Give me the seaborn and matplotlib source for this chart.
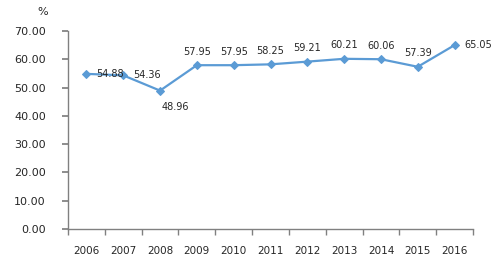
import numpy as np
import matplotlib
matplotlib.use("Agg")
import matplotlib.pyplot as plt
import pandas as pd
import seaborn as sns

years = ['2006', '2007', '2008', '2009', '2010', '2011', '2012', '2013', '2014', '2015', '2016']
values = [54.88, 54.36, 48.96, 57.95, 57.95, 58.25, 59.21, 60.21, 60.06, 57.39, 65.05]
# where each data label sits relative to its point
label_pos = ['right', 'right', 'below', 'above', 'above', 'above', 'above', 'above', 'above', 'above', 'right']

sns.set_theme(style='white')
plt.rcParams['font.family'] = ['DejaVu Sans']

df = pd.DataFrame({'pos': np.arange(len(years)), 'value': values})

fig = plt.figure(figsize=(5.0, 2.73), dpi=100)
ax = fig.add_axes([0.136, 0.161, 0.81, 0.725])

color = '#5B9BD5'
sns.lineplot(data=df, x='pos', y='value', ax=ax, color=color, linewidth=1.6,
             marker='D', markersize=4.5, markeredgecolor=color)

for x, v, p in zip(df['pos'], values, label_pos):
    if p == 'right':
        ax.annotate('{:.2f}'.format(v), (x, v), xytext=(7, 0), textcoords='offset points',
                    ha='left', va='center', fontsize=7)
    elif p == 'below':
        ax.annotate('{:.2f}'.format(v), (x, v), xytext=(1, -8), textcoords='offset points',
                    ha='left', va='top', fontsize=7)
    else:
        ax.annotate('{:.2f}'.format(v), (x, v), xytext=(0, 6), textcoords='offset points',
                    ha='center', va='bottom', fontsize=7)

ax.set_xlim(-0.5, len(years) - 0.5)
ax.set_ylim(0, 70)
ax.set_yticks(np.arange(0, 71, 10))
ax.set_yticklabels(['{:.2f}'.format(t) for t in np.arange(0, 71, 10)], fontsize=8)
ax.set_xticks(df['pos'])
ax.set_xticklabels(years, fontsize=7.5)
ax.set_xticks(np.arange(-0.5, len(years)), minor=True)
ax.tick_params(axis='x', which='major', length=0, pad=12)
ax.tick_params(axis='x', which='minor', length=4, color='#808080', direction='out', bottom=True)
ax.tick_params(axis='y', length=4, color='#808080', direction='out', left=True, pad=12)
ax.set_xlabel('')
ax.set_ylabel('')

for side in ['top', 'right']:
    ax.spines[side].set_visible(False)
for side in ['left', 'bottom']:
    ax.spines[side].set_color('#808080')
    ax.spines[side].set_linewidth(1.0)

fig.text(0.086, 0.955, '%', fontsize=8, ha='center', va='center')

fig.savefig('out.png', dpi=100)
